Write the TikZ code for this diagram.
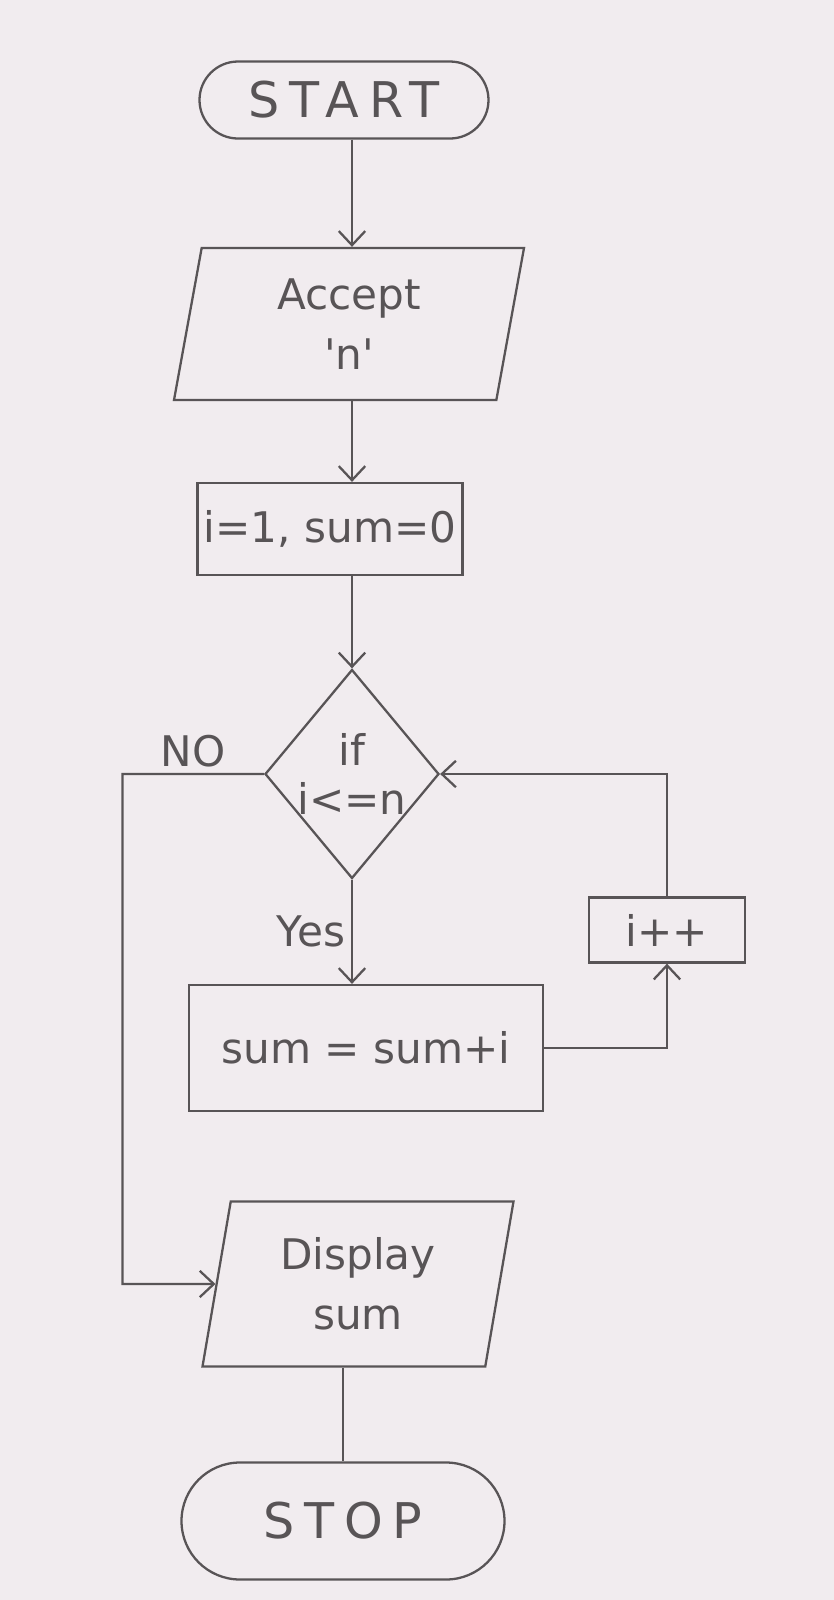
\documentclass[tikz,border=0pt]{standalone}
\usepackage{fontspec}
\setmainfont{DejaVu Sans}
\newfontfamily\spacedfont[LetterSpace=20]{DejaVu Sans}
\usetikzlibrary{shapes,arrows.meta,calc}

\definecolor{paper}{RGB}{241,236,239}
\definecolor{pencil}{RGB}{88,84,86}

\begin{document}
\begin{tikzpicture}[>={Straight Barb[length=8pt,width=15pt]},line width=1.3pt,color=pencil]
\tikzstyle{every node}=[font=\fontsize{24}{34}\selectfont, align=center]
\tikzstyle{term}=[draw, rounded rectangle, inner sep=0pt, font=\spacedfont\fontsize{28}{34}\selectfont]
\tikzstyle{io}=[draw, trapezium, trapezium left angle=73, trapezium right angle=107,
trapezium stretches body, inner sep=0pt]
\tikzstyle{proc}=[draw, rectangle, inner sep=0pt]
\tikzstyle{dec}=[draw, diamond, inner sep=0pt, aspect=0.83, text width=1cm,
font=\fontsize{24}{28}\selectfont]

\fill[paper] (0,0) rectangle (16.68,-32);

\node (start) [term, minimum width=5.78cm, minimum height=1.54cm] at (6.88,-2.0) {START};
\path (start)+(0.1,-4.48) node (accept) [io, minimum width=7cm, minimum height=3.04cm] {Accept\\\textquotesingle n\textquotesingle};
\path (accept)+(-0.38,-4.1) node (init) [proc, minimum width=5.3cm, minimum height=1.84cm] {i=1, sum=0};
\path (init)+(0.44,-4.9) node (cond) [dec, minimum width=3.48cm, minimum height=4.18cm] {\makebox[0pt]{if}\\\makebox[0pt]{i<=n}};
\path (cond)+(0.28,-5.48) node (sum) [proc, minimum width=7.08cm, minimum height=2.52cm] {sum = sum+i};
\path (cond)+(6.3,-3.12) node (ipp) [proc, minimum width=3.12cm, minimum height=1.3cm] {i++};
\path (sum)+(-0.16,-4.72) node (disp) [io, minimum width=6.22cm, minimum height=3.3cm] {Display\\sum};
\path (disp)+(-0.3,-4.74) node (stop) [term, minimum width=6.46cm, minimum height=2.34cm] {STOP};
\coordinate (noturn) at (2.45,-15.48);

\path [draw, ->] (cond.north |- start.south) -- (cond.north |- accept.north);
\path [draw, ->] (cond.north |- accept.south) -- (cond.north |- init.north);
\path [draw, ->] (cond.north |- init.south) -- (cond.north);
\path [draw, ->] (cond.south) -- node [left] {Yes} (cond.south |- sum.north);
\path [draw, ->] (sum.east) -| (ipp.south);
\path [draw, ->] (ipp.north) |- (cond.east);
\path [draw, ->] (cond.west) -- node [above] {NO} (noturn) |- (disp.west);
\path [draw] (stop.north |- disp.south) -- (stop.north);
\end{tikzpicture}
\end{document}
